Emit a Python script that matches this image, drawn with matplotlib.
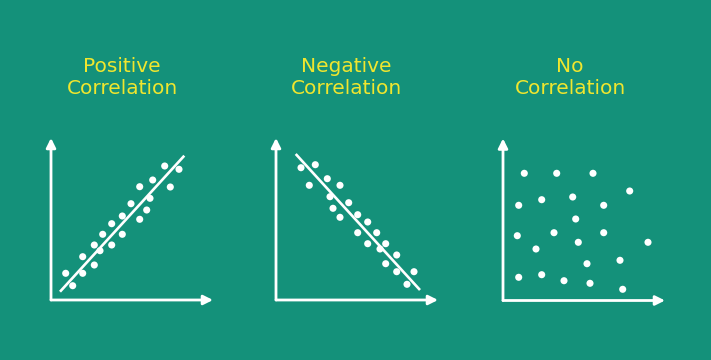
import matplotlib.pyplot as plt

bg = '#14917a'
yellow = '#f0e62e'

titles = ['Positive\nCorrelation', 'Negative\nCorrelation', 'No\nCorrelation']
title_x = [122, 346, 570]

# positive panel
pos_x = [14.7, 21.7, 31.7, 31.7, 43.3, 43.3, 49, 51.7, 60.7, 60.7, 71.3,
         71.3, 80, 88.7, 88.7, 95.7, 99, 101.7, 113.7, 119.3, 128]
pos_y = [26.7, 14.3, 26.7, 43.3, 35, 55, 49.3, 65.7, 55, 76.3, 65.7,
         84, 96.3, 80.7, 113.3, 90, 101.7, 120, 134, 113, 130.7]
pos_line = ([9, 133.3], [8.3, 144.3])

# negative panel
neg_x = [25, 39.3, 33.3, 51.3, 64, 54, 72.7, 57, 64, 81.7, 91.7,
         81.7, 100.7, 91.7, 109.7, 104, 120.7, 109.7, 120.7, 138, 131]
neg_y = [132.3, 135.3, 114.7, 121.3, 114.7, 103.3, 97.3, 91.7, 82.7, 85.3, 78,
         67.3, 67.3, 56.3, 56.3, 51, 45, 36.3, 28.3, 28.3, 15.7]
neg_line = ([19.7, 144], [146, 10])

# no correlation panel
no_x = [21.3, 53.7, 90, 126.7, 15.7, 38.7, 69.7, 100.7, 72.7, 14.3, 51,
        100.7, 75.3, 145, 33, 84, 117, 15.7, 38.7, 61, 87, 119.7]
no_y = [127.2, 127.2, 127.2, 109.5, 95.2, 100.8, 103.5, 95.2, 81.5, 64.8, 67.8,
        67.8, 58.2, 58.2, 51.5, 36.8, 40.2, 23.2, 25.8, 19.8, 17.2, 11.2]

origins = [(51, 300), (276, 300), (503, 300.5)]
xs = [pos_x, neg_x, no_x]
ys = [pos_y, neg_y, no_y]
lines = [pos_line, neg_line, None]

W, H = 711, 360
fig = plt.figure(figsize=(7.11, 3.6), dpi=100)
fig.patch.set_facecolor(bg)

size = 175
for i in range(3):
    ox, oy = origins[i]
    ax = fig.add_axes([(ox - 3) / W, (H - oy - 3) / H, size / W, size / H])
    ax.set_xlim(-3, size - 3)
    ax.set_ylim(-3, size - 3)
    ax.axis('off')
    ax.annotate('', xy=(0, 162), xytext=(0, 0),
                arrowprops=dict(arrowstyle='-|>', color='white', lw=2, mutation_scale=14, shrinkA=0, shrinkB=0))
    ax.annotate('', xy=(162, 0), xytext=(0, 0),
                arrowprops=dict(arrowstyle='-|>', color='white', lw=2, mutation_scale=14, shrinkA=0, shrinkB=0))
    if lines[i] is not None:
        ax.plot(lines[i][0], lines[i][1], color='white', lw=1.9, solid_capstyle='butt')
    ax.scatter(xs[i], ys[i], s=26, color='white', edgecolors='none', zorder=3)
    fig.text(title_x[i] / W, 1 - 77 / H, titles[i], color=yellow, fontsize=14.5,
             ha='center', va='center', linespacing=1.2, family='DejaVu Sans')

fig.savefig('out.png', dpi=100, facecolor=bg)
